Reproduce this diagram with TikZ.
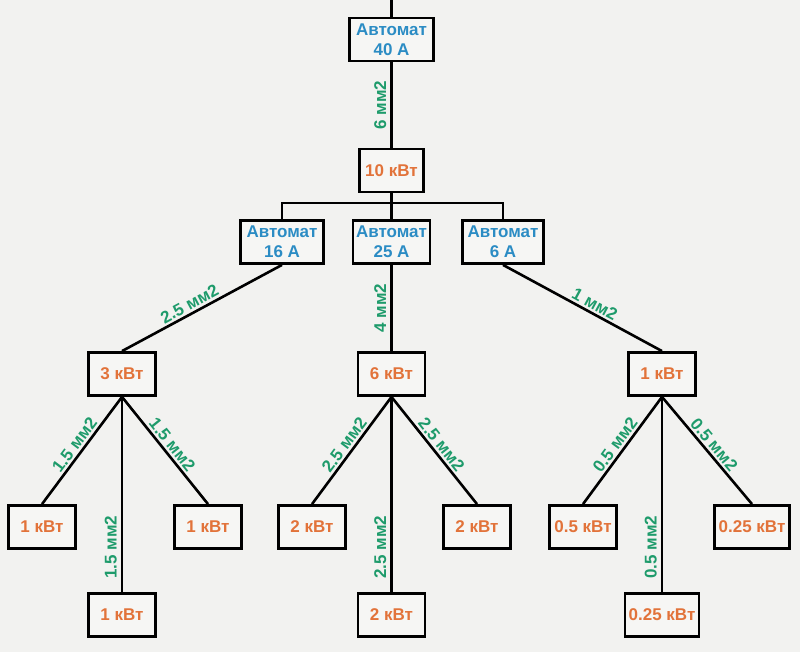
\documentclass[tikz,border=0pt]{standalone}
\usepackage{fontspec}
\setmainfont{Liberation Sans}
\definecolor{bg}{HTML}{F2F2F0}
\definecolor{boxfill}{HTML}{F6F6F4}
\definecolor{autoblue}{HTML}{2B8CC4}
\definecolor{pwrorange}{HTML}{E2733A}
\definecolor{wiregreen}{HTML}{1E9B6B}
\tikzset{
  base/.style={draw=black, line width=2.8pt, fill=boxfill, font=\bfseries\fontsize{17}{20}\selectfont, inner xsep=3pt, inner ysep=0pt},
  autobox/.style={base, text=autoblue, align=center, minimum height=43pt},
  pwrbox/.style={base, text=pwrorange, minimum height=43pt, minimum width=67pt},
  wire/.style={line width=2.6pt, black},
  wlabel/.style={text=wiregreen, font=\bfseries\fontsize{17}{20}\selectfont, inner sep=2pt},
  vlabel/.style={wlabel, rotate=90, anchor=south, inner sep=4pt},
}
\begin{document}
\begin{tikzpicture}[x=1pt, y=-1pt]
\fill[bg] (0,0) rectangle (800,652);
\useasboundingbox (0,0) rectangle (800,652);

% nodes
\node[autobox, minimum width=84pt] (a40) at (391.5,39.5) {Автомат\\40 A};
\node[pwrbox, minimum width=64pt] (p10) at (391.5,170.5) {10 кВт};
\node[autobox, minimum width=83pt] (a16) at (282,242) {Автомат\\16 A};
\node[autobox, minimum width=75pt] (a25) at (391.5,242) {Автомат\\25 A};
\node[autobox, minimum width=81pt] (a6) at (503,242) {Автомат\\6 A};

\node[pwrbox] (p3) at (122,374) {3 кВт};
\node[pwrbox] (p6) at (391.5,374) {6 кВт};
\node[pwrbox] (p1) at (662,374) {1 кВт};

\node[pwrbox] (l1) at (42,527) {1 кВт};
\node[pwrbox] (l2) at (122,615) {1 кВт};
\node[pwrbox] (l3) at (208,527) {1 кВт};

\node[pwrbox] (m1) at (312,527) {2 кВт};
\node[pwrbox] (m2) at (391.5,615) {2 кВт};
\node[pwrbox] (m3) at (477,527) {2 кВт};

\node[pwrbox] (r1) at (583,527) {0.5 кВт};
\node[pwrbox, minimum width=74pt] (r2) at (662,615) {0.25 кВт};
\node[pwrbox, minimum width=75pt] (r3) at (752,527) {0.25 кВт};

\coordinate (feed) at (391.5,0);
\coordinate (bus) at (391.5,203);

% connectors
\draw[wire] (feed) -- (a40.north);
\draw[wire] (a40.south) -- node[vlabel] {6 мм2} (p10.north);
\draw[wire] (p10.south) -- (a25.north);
\draw[wire] (a16.north) |- (bus) -| (a6.north);

\draw[wire] (a16.south) -- node[wlabel, sloped, above, pos=0.55] {2.5 мм2} (p3.north);
\draw[wire] (a25.south) -- node[vlabel] {4 мм2} (p6.north);
\draw[wire] (a6.south) -- node[wlabel, sloped, above, pos=0.55] {1 мм2} (p1.north);

\draw[wire] (p3.south) -- node[wlabel, sloped, above, midway] {1.5 мм2} (l1.north);
\draw[wire] (p3.south) -- node[vlabel, pos=0.77] {1.5 мм2} (l2.north);
\draw[wire] (p3.south) -- node[wlabel, sloped, above, midway] {1.5 мм2} (l3.north);

\draw[wire] (p6.south) -- node[wlabel, sloped, above, midway] {2.5 мм2} (m1.north);
\draw[wire] (p6.south) -- node[vlabel, pos=0.77] {2.5 мм2} (m2.north);
\draw[wire] (p6.south) -- node[wlabel, sloped, above, midway] {2.5 мм2} (m3.north);

\draw[wire] (p1.south) -- node[wlabel, sloped, above, midway] {0.5 мм2} (r1.north);
\draw[wire] (p1.south) -- node[vlabel, pos=0.77] {0.5 мм2} (r2.north);
\draw[wire] (p1.south) -- node[wlabel, sloped, above, midway] {0.5 мм2} (r3.north);
\end{tikzpicture}
\end{document}
